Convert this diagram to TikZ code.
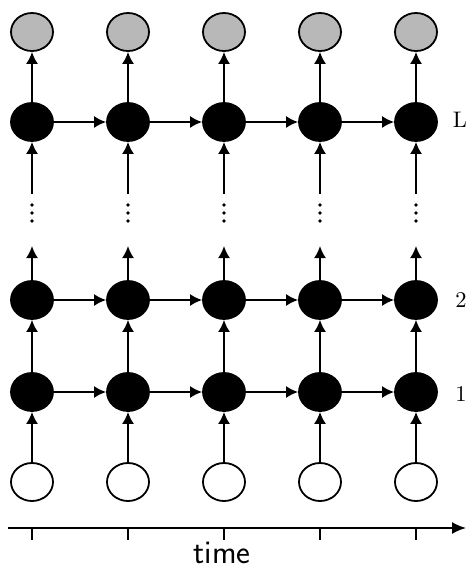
\documentclass[tikz,border=0pt]{standalone}
\usetikzlibrary{arrows.meta,shapes.geometric}
\begin{document}
\begin{tikzpicture}[x=1pt,y=-1pt,
  unit/.style={ellipse,draw=black,line width=1.8pt,minimum width=42pt,minimum height=38pt,inner sep=0pt},
  hid/.style={unit,fill=black},
  outu/.style={unit,fill=black!28},
  inu/.style={unit,fill=white},
  conn/.style={line width=1.8pt,-{Latex[length=12pt,width=12pt]}},
  lbl/.style={inner sep=0pt,scale=2.25},
  dot/.style={circle,fill=black,inner sep=0pt,minimum size=3.6pt}]
\useasboundingbox (0,0) rectangle (474,573);
\foreach \i/\x in {1/32,2/128,3/224,4/320,5/416}{
  \node[outu] (o\i) at (\x,32) {};
  \node[hid] (L\i) at (\x,122) {};
  \node[dot] (da\i) at (\x,205) {};
  \node[dot] (db\i) at (\x,213) {};
  \node[dot] (dc\i) at (\x,221) {};
  \coordinate (t\i) at (\x,194);
  \coordinate (b\i) at (\x,246);
  \node[hid] (B\i) at (\x,300) {};
  \node[hid] (A\i) at (\x,392) {};
  \node[inu] (x\i) at (\x,482) {};
  \draw[conn] (L\i) -- (o\i);
  \draw[conn] (t\i) -- (L\i);
  \draw[conn] (B\i) -- (b\i);
  \draw[conn] (A\i) -- (B\i);
  \draw[conn] (x\i) -- (A\i);
  \coordinate (k\i) at (\x,540);
  \coordinate (k0\i) at (\x,528);
}
\foreach \i/\j in {1/2,2/3,3/4,4/5}{
  \draw[conn] (L\i) -- (L\j);
  \draw[conn] (B\i) -- (B\j);
  \draw[conn] (A\i) -- (A\j);
}
\node[lbl] (lL) at (460,120) {L};
\node[lbl] (l2) at (461,300) {2};
\node[lbl] (l1) at (461,394) {1};
\coordinate (ax0) at (8,528);
\coordinate (ax1) at (466,528);
\draw[line width=1.8pt,-{Latex[length=14pt,width=12pt]}] (ax0) -- (ax1);
\foreach \i in {1,...,5}{
  \draw[line width=1.8pt] (k0\i) -- (k\i);
}
\node[anchor=base] (time) at (222,563) {\sffamily\fontsize{33}{36}\selectfont time};
\end{tikzpicture}
\end{document}
